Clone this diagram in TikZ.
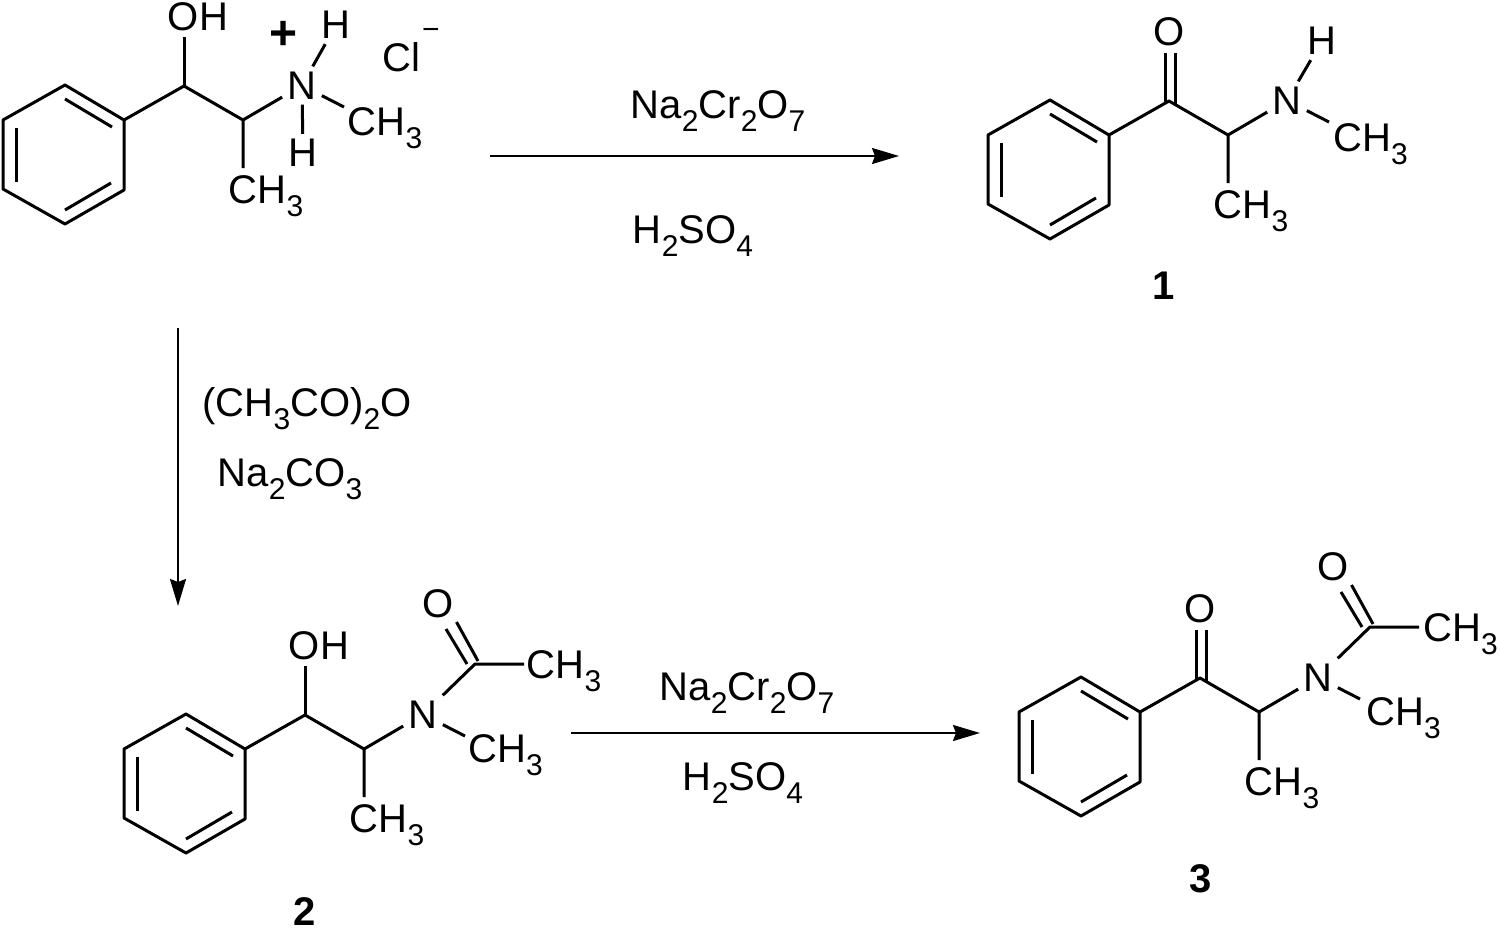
\documentclass[tikz,border=0pt]{standalone}
\usepackage{fontspec}
\setmainfont{Liberation Sans}
\usetikzlibrary{arrows.meta}
\newcommand\sbs[1]{\raisebox{-6.5pt}{\fontsize{15}{15}\selectfont #1}}
\newcommand\methyl{CH\sbs{3}}
\tikzset{
  bond/.style={line width=1.5pt,line join=round,line cap=butt,black},
  reaction/.style={line width=1.05pt,black,-{Stealth[length=13.5pt,width=8pt,inset=1.5pt]}},
  chem/.style={font=\fontsize{20}{24}\selectfont,inner sep=2.5pt,text=black},
  tag/.style={font=\bfseries\fontsize{20}{22}\selectfont,inner sep=0pt,anchor=base},
  reagent/.style={font=\fontsize{20}{24}\selectfont,inner sep=0pt,anchor=base,text=black},
}
% phenyl ring and the C1-C2 chain with its methyl, drawn in local coordinates
\newcommand\skeleton{
  \coordinate (r1) at (3,120);
  \coordinate (r2) at (65,85);
  \coordinate (r3) at (124,120);
  \coordinate (r4) at (124,190);
  \coordinate (r5) at (65,224);
  \coordinate (r6) at (3,189);
  \coordinate (c1) at (184,86);
  \coordinate (c2) at (243,120);
  \coordinate (c2m) at (243,168);
  \draw[bond] (r1) -- (r2) -- (r3) -- (r4) -- (r5) -- (r6) -- cycle;
  \draw[bond] (65,99) -- (112,127);
  \draw[bond] (16,128) -- (16,182);
  \draw[bond] (65,210) -- (111,183);
  \draw[bond] (r3) -- (c1) -- (c2) -- (c2m);
  \node[chem,inner sep=0pt,anchor=base west] (me2) at (228.5,203) {\methyl};
  \node[chem] (n) at (302,85.5) {N};
  \draw[bond] (c2) -- (n);
}
\newcommand\hydroxyl{
  \coordinate (oe) at (184,37);
  \draw[bond] (c1) -- (oe);
  \node[chem,inner sep=0pt,anchor=base west] (oh) at (167.5,30.5) {OH};
}
\newcommand\ketone{
  \node[chem] (o) at (184,17) {O};
  \draw[bond] (180,38) -- (180,88);
  \draw[bond] (190.5,38) -- (190.5,91);
}
\newcommand\nmethyl[2]{
  \coordinate (ne) at (344,107);
  \draw[bond] (n) -- (ne);
  \node[chem,inner sep=0pt,anchor=base west] (me1) at (#1,#2) {\methyl};
}
\newcommand\acetyl[1]{
  \coordinate (cac) at (354,35);
  \coordinate (ace) at (403,35);
  \draw[bond] (n) -- (cac) -- (ace);
  \draw[bond] (325,0) -- (346,35);
  \draw[bond] (335.5,-7) -- (357,32);
  \node[chem] (oac) at (317.5,-25) {O};
  \node[chem,inner sep=0pt,anchor=base west] (me3) at (#1,49.5) {\methyl};
}
\begin{document}
\begin{tikzpicture}[x=0.5pt,y=-0.5pt]
\useasboundingbox (0,0) rectangle (1500,932);
\fill[white] (0,0) rectangle (1500,932);

% starting salt
\begin{scope}[name prefix=a-]
  \skeleton
  \hydroxyl
  \nmethyl{347.5}{135}
  \node[chem] (h1) at (336,25) {H};
  \node[chem] (h2) at (303,153) {H};
  \draw[bond] (n) -- (h1);
  \draw[bond] (n) -- (h2);
  \node[chem,inner sep=0pt,font=\bfseries\fontsize{24}{24}\selectfont] (plus) at (284,35) {+};
  \node[chem,inner sep=0pt,anchor=base west] (cl) at (382,71) {Cl};
  \node[chem,inner sep=0pt,font=\fontsize{15}{15}\selectfont] (minus) at (431,34) {−};
\end{scope}

% product 1
\begin{scope}[shift={(985,15)},name prefix=b-]
  \skeleton
  \ketone
  \nmethyl{348}{136}
  \node[chem] (h1) at (337,26) {H};
  \draw[bond] (n) -- (h1);
\end{scope}

% product 2
\begin{scope}[shift={(121,629)},name prefix=c-]
  \skeleton
  \hydroxyl
  \nmethyl{347}{133}
  \acetyl{405.5}
\end{scope}

% product 3
\begin{scope}[shift={(1016,592)},name prefix=d-]
  \skeleton
  \ketone
  \nmethyl{350}{133}
  \acetyl{407}
\end{scope}

% reaction arrows
\coordinate (a1s) at (490,156);
\coordinate (a1e) at (899,156);
\coordinate (a2s) at (178,328);
\coordinate (a2e) at (178,606);
\coordinate (a3s) at (571,733);
\coordinate (a3e) at (980,733);
\draw[reaction] (a1s) -- (a1e);
\draw[reaction] (a2s) -- (a2e);
\draw[reaction] (a3s) -- (a3e);

% reagents
\node[reagent] (r1t) at (718,118) {Na\sbs{2}Cr\sbs{2}O\sbs{7}};
\node[reagent] (r1b) at (693,243) {H\sbs{2}SO\sbs{4}};
\node[reagent] (r2t) at (307,416) {(CH\sbs{3}CO)\sbs{2}O};
\node[reagent] (r2b) at (290,486) {Na\sbs{2}CO\sbs{3}};
\node[reagent] (r3t) at (747,700) {Na\sbs{2}Cr\sbs{2}O\sbs{7}};
\node[reagent] (r3b) at (743,790) {H\sbs{2}SO\sbs{4}};

% compound numbers
\node[tag] (t1) at (1164,299) {1};
\node[tag] (t2) at (305,925) {2};
\node[tag] (t3) at (1201,892) {3};
\end{tikzpicture}
\end{document}
